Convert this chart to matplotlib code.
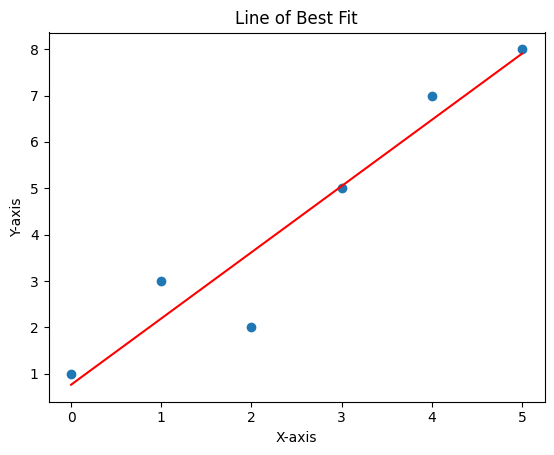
import numpy as np
import matplotlib
matplotlib.use('Agg')
import matplotlib.pyplot as plt

# Data titik
x = np.array([0, 1, 2, 3, 4, 5])
y = np.array([1, 3, 2, 5, 7, 8])

# Garis regresi linear
m, b = np.polyfit(x, y, 1)

fig = plt.figure(figsize=(5.54, 4.55), dpi=100)
fig.subplots_adjust(left=48.5 / 554, right=544.5 / 554, top=1 - 32.5 / 455, bottom=1 - 401.5 / 455)
ax = fig.add_subplot(111)

ax.scatter(x, y)
ax.plot(x, m * x + b, color='red')

ax.set_title('Line of Best Fit')
ax.set_xlabel('X-axis')
ax.set_ylabel('Y-axis')

fig.savefig('out.png', dpi=100)
